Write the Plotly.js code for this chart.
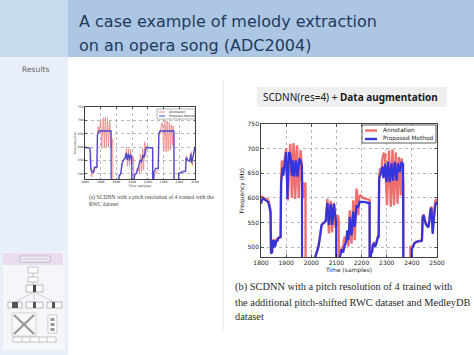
<!DOCTYPE html>
<html><head><meta charset="utf-8">
<script src="https://cdn.plot.ly/plotly-3.0.1.min.js"></script>
<style>html,body{margin:0;padding:0;background:#fff;}#chart{width:474px;height:355px;}</style>
</head><body><div id="chart"></div>
<script>
// ---- data ----
const xTicks = [1800, 1900, 2000, 2100, 2200, 2300, 2400, 2500];
const yTicks = [500, 550, 600, 650, 700, 750];
const seriesNames = ['Annotation', 'Proposed Method'];
// [time sample, frequency Hz]; 0 = unvoiced (drops below the axis)
const annotationPts = [
 [1800,600],[1804,602],[1810,600],[1820,598],[1828,596],[1832,590],[1836,582],[1838,575],[1840,488],[1844,490],[1847,512],[1851,515],[1854,502],[1858,506],[1861,515],[1865,514],[1868,519],[1876,522],[1878,522],
 [1880,640],[1883,676],[1886,660],[1889,653],[1893,675],[1897,692],[1900,700],[1903,650],[1907,595],[1910,640],[1913,700],[1916,710],[1919,680],[1923,600],[1926,650],[1929,711],[1932,690],[1936,598],[1939,640],[1943,707],[1946,670],[1950,600],[1953,640],[1957,697],[1960,680],[1963,630],[1966,600],[1969,602],[1972,629],[1977,629],[1978,0],
 [2014,0],[2016,480],[2022,490],[2028,500],[2033,517],[2037,532],[2041,545],[2047,548],[2053,551],[2058,556],[2061,580],[2064,598],[2067,565],[2070,528],[2073,560],[2077,594],[2080,570],[2083,530],[2086,560],[2090,590],[2093,572],[2096,540],[2100,545],[2103,562],[2106,565],[2109,555],[2110,0],
 [2112,0],[2114,482],[2120,496],[2124,498],[2128,505],[2132,521],[2136,515],[2140,512],[2143,525],[2147,501],[2150,530],[2153,575],[2156,550],[2160,507],[2164,555],[2167,595],[2170,560],[2173,514],[2177,580],[2180,619],[2184,600],[2187,565],[2190,600],[2195,605],[2205,600],[2215,598],[2225,596],[2232,596],[2233,0],
 [2235,0],[2237,490],[2242,492],[2245,505],[2249,508],[2253,504],[2257,506],[2261,515],[2265,522],[2268,522],[2270,645],[2274,660],[2278,650],[2283,679],[2288,690],[2293,689],[2297,640],[2301,585],[2305,640],[2309,696],[2313,650],[2316,582],[2320,640],[2323,698],[2326,650],[2329,585],[2333,640],[2336,692],[2340,650],[2343,588],[2346,640],[2349,683],[2353,650],[2356,605],[2360,680],[2364,640],[2366,625],[2368,0],
 [2392,0],[2394,500],[2400,500],[2405,502],[2409,508],[2416,510],[2425,512],[2436,513],[2440,514],[2443,562],[2447,566],[2451,557],[2456,548],[2461,545],[2466,542],[2470,557],[2474,578],[2478,582],[2480,558],[2483,530],[2486,552],[2489,568],[2493,594],[2497,596],[2500,598]
];
// (b) proposed method trained with data augmentation
const proposedAugPts = [
 [1800,588],[1804,596],[1810,598],[1820,595],[1828,592],[1832,585],[1836,578],[1838,570],[1840,487],[1844,490],[1847,512],[1851,514],[1854,500],[1858,505],[1861,514],[1865,512],[1868,518],[1876,520],[1878,520],
 [1880,630],[1883,659],[1886,662],[1889,645],[1893,665],[1896,678],[1900,693],[1903,640],[1905,598],[1908,650],[1912,693],[1915,690],[1919,676],[1923,645],[1927,676],[1932,643],[1939,676],[1945,643],[1953,680],[1959,673],[1963,665],[1964,0],
 [2014,0],[2016,480],[2022,490],[2028,500],[2033,515],[2037,530],[2041,545],[2047,548],[2053,550],[2058,553],[2061,575],[2064,590],[2067,570],[2070,545],[2073,560],[2077,588],[2080,575],[2083,545],[2086,560],[2090,588],[2093,575],[2096,555],[2099,550],[2100,0],
 [2112,0],[2114,480],[2120,494],[2124,494],[2127,489],[2131,500],[2135,505],[2139,512],[2143,534],[2147,514],[2150,530],[2153,561],[2156,545],[2160,524],[2164,550],[2167,572],[2170,555],[2173,541],[2177,565],[2180,585],[2184,580],[2188,584],[2192,592],[2210,592],[2225,590],[2232,590],[2233,0],
 [2235,0],[2237,487],[2242,490],[2245,505],[2249,507],[2253,502],[2257,504],[2261,514],[2265,520],[2268,521],[2270,639],[2276,649],[2283,663],[2287,640],[2293,669],[2299,632],[2305,673],[2312,632],[2319,670],[2325,635],[2332,673],[2339,635],[2345,670],[2352,652],[2359,673],[2365,668],[2368,0],
 [2395,0],[2397,482],[2400,497],[2405,500],[2409,507],[2416,510],[2425,512],[2436,512],[2440,513],[2443,560],[2447,565],[2451,555],[2456,546],[2461,543],[2466,540],[2470,555],[2474,575],[2478,580],[2480,555],[2483,527],[2486,550],[2489,565],[2493,584],[2497,590],[2500,592]
];
// (a) proposed method trained with RWC only
const proposedRwcPts = [
 [1800,598],[1832,596],[1836,520],[1842,508],[1855,505],[1860,524],[1875,524],[1879,645],[1885,655],[1890,660],[1966,660],[1968,0],
 [2014,0],[2016,492],[2028,500],[2034,535],[2042,548],[2055,560],[2062,578],[2068,552],[2076,575],[2083,550],[2090,572],[2097,560],[2099,0],
 [2112,0],[2114,495],[2128,500],[2134,510],[2142,530],[2150,550],[2160,545],[2168,570],[2176,560],[2184,590],[2192,598],[2230,596],[2232,0],
 [2236,0],[2238,505],[2250,520],[2266,520],[2270,650],[2278,660],[2366,660],[2368,0],
 [2392,0],[2396,500],[2410,505],[2440,508],[2444,560],[2455,550],[2466,548],[2474,575],[2478,540],[2486,560],[2492,585],[2500,600]
];

// ---- layout helpers ----
const W = 474, H = 355;
const X = v => v / W;
const Y = v => 1 - v / H;
const xs = p => p.map(d => d[0]);
const ys = p => p.map(d => d[1]);

const RED = '#ef6f6f', BLUE = '#3434dc';

const traces = [
  {x: xs(annotationPts), y: ys(annotationPts), xaxis: 'x', yaxis: 'y', mode: 'lines', name: seriesNames[0], line: {color: RED, width: 2.4}, showlegend: false},
  {x: xs(proposedAugPts), y: ys(proposedAugPts), xaxis: 'x', yaxis: 'y', mode: 'lines', name: seriesNames[1], line: {color: BLUE, width: 2.2}, showlegend: false},
  {x: xs(annotationPts), y: ys(annotationPts), xaxis: 'x2', yaxis: 'y2', mode: 'lines', name: seriesNames[0], line: {color: '#f08a8a', width: 0.9}, showlegend: false},
  {x: xs(proposedRwcPts), y: ys(proposedRwcPts), xaxis: 'x2', yaxis: 'y2', mode: 'lines', name: seriesNames[1], line: {color: '#4a48d0', width: 1.3}, showlegend: false}
];

function axisBase(fs) {
  return {
    showline: true, mirror: 'ticks', linecolor: '#111', linewidth: 0.8,
    ticks: 'inside', ticklen: fs > 4 ? 3 : 1.5, tickwidth: 0.6, tickcolor: '#111',
    showgrid: true, gridcolor: '#8a8a8a', griddash: 'dot', gridwidth: 0.6,
    zeroline: false, fixedrange: true,
    tickfont: {family: 'DejaVu Sans', size: fs, color: '#222'}
  };
}

const layout = {
  width: W, height: H,
  margin: {l: 0, r: 0, t: 0, b: 0, pad: 0},
  paper_bgcolor: '#ffffff', plot_bgcolor: '#ffffff',
  showlegend: false,
  xaxis: Object.assign(axisBase(6), {domain: [X(261), X(437)], range: [1800, 2500], tickvals: xTicks, anchor: 'y',
    title: {text: 'Time (samples)', font: {family: 'DejaVu Sans', size: 6, color: '#222'}, standoff: 1}}),
  yaxis: Object.assign(axisBase(6), {domain: [Y(257), Y(124)], range: [480, 750], tickvals: yTicks, anchor: 'x',
    title: {text: 'Frequency (Hz)', font: {family: 'DejaVu Sans', size: 6, color: '#222'}, standoff: 2}}),
  xaxis2: Object.assign(axisBase(3), {domain: [X(85), X(195)], range: [1800, 2500], tickvals: xTicks, anchor: 'y2',
    title: {text: 'Time (samples)', font: {family: 'DejaVu Sans', size: 3, color: '#333'}, standoff: 1}}),
  yaxis2: Object.assign(axisBase(3), {domain: [Y(179), Y(107)], range: [480, 750], tickvals: yTicks, anchor: 'x2',
    title: {text: 'Frequency (Hz)', font: {family: 'DejaVu Sans', size: 3, color: '#333'}, standoff: 1}}),
  shapes: [],
  annotations: []
};

function rect(x0, y0, x1, y1, fill, lineColor, lw, layer) {
  layout.shapes.push({type: 'rect', xref: 'paper', yref: 'paper', x0: X(x0), x1: X(x1), y0: Y(y1), y1: Y(y0),
    fillcolor: fill, line: {color: lineColor || 'rgba(0,0,0,0)', width: lw || 0}, layer: layer || 'below'});
}
function seg(x0, y0, x1, y1, color, w, layer) {
  layout.shapes.push({type: 'line', xref: 'paper', yref: 'paper', x0: X(x0), x1: X(x1), y0: Y(y0), y1: Y(y1),
    line: {color: color, width: w}, layer: layer || 'below'});
}
function text(t, x, y, size, opts) {
  opts = opts || {};
  layout.annotations.push({text: t, xref: 'paper', yref: 'paper', x: X(x), y: Y(y), showarrow: false,
    xanchor: opts.xanchor || 'left', yanchor: opts.yanchor || 'middle',
    font: {family: opts.family || 'DejaVu Sans', size: size, color: opts.color || '#222'},
    textangle: opts.angle || 0});
}

// slide background
rect(0, 0, 474, 57, '#adc6e3');
rect(0, 0, 68, 57, '#c7daee');
rect(0, 57, 68, 355, '#e8eff8');
seg(223, 80, 223, 330, '#e4e4e4', 1);
// label box
rect(257, 87, 447, 107, '#efefef');

// thumbnail of network diagram
rect(3, 252, 65, 350, '#f5f6fa');
rect(3, 253, 63, 265, '#eadcef');
rect(20, 256, 50, 262, '#f3eef6', '#9a9aa8', 0.5);
seg(22, 259, 48, 259, '#9a9aa8', 0.5);
rect(28, 267, 38, 273, '#ffffff', '#9a9a9a', 0.6);
seg(33, 273, 33, 277, '#999', 0.5);
rect(28, 277, 38, 282, '#ffffff', '#9a9a9a', 0.6);
seg(33, 282, 33, 285, '#999', 0.5);
rect(26, 285, 43, 292, '#ffffff', '#8a8a8a', 0.6);
rect(33, 285, 36, 292, '#444', null, 0);
seg(34, 292, 15, 302, '#aaa', 0.5); seg(34, 292, 34, 302, '#aaa', 0.5); seg(34, 292, 54, 302, '#aaa', 0.5);
rect(8, 302, 22, 308, '#ffffff', '#8a8a8a', 0.6); rect(12, 302, 18, 308, '#555', null, 0);
rect(26, 302, 43, 308, '#ffffff', '#8a8a8a', 0.6); rect(33, 302, 36, 308, '#555', null, 0);
rect(47, 302, 62, 308, '#ffffff', '#8a8a8a', 0.6); rect(52, 302, 55, 308, '#555', null, 0);
rect(12, 313, 36, 336, '#f7f7f7', '#b0b0b0', 0.5);
seg(14, 315, 34, 334, '#999', 2.2); seg(34, 315, 14, 334, '#999', 2.2);
rect(48, 315, 57, 333, '#ffffff', '#999', 0.5);
rect(50.5, 318, 54.5, 321, '#999', null, 0); rect(50.5, 323, 54.5, 326, '#999', null, 0); rect(50.5, 328, 54.5, 331, '#999', null, 0);
rect(13, 337, 56, 342, '#ffffff', '#8a8a8a', 0.5);
seg(22, 337, 22, 342, '#8a8a8a', 0.5); seg(30, 337, 30, 342, '#8a8a8a', 0.5); seg(39, 337, 39, 342, '#8a8a8a', 0.5); seg(47, 337, 47, 342, '#8a8a8a', 0.5);

// main legend
rect(362, 125, 436, 143, '#ffffff', '#333', 0.8, 'above');
seg(365, 130.5, 377, 130.5, RED, 2.4, 'above');
seg(365, 139, 377, 139, BLUE, 2.4, 'above');
text(seriesNames[0], 381, 130.5, 5.8);
text(seriesNames[1], 381, 139, 5.8);
// small legend
rect(157, 109, 195, 119, '#ffffff', '#444', 0.4, 'above');
seg(159, 112, 165, 112, '#f08a8a', 1, 'above');
seg(159, 116, 165, 116, '#4a48d0', 1, 'above');
text(seriesNames[0], 167, 112, 3);
text(seriesNames[1], 167, 116, 3);

// texts
text('A case example of melody extraction', 77, 21, 16, {color: '#1f3a5e'});
text('on an opera song (ADC2004)', 77, 45, 16, {color: '#1f3a5e'});
text('Results', 20, 70, 7.6, {color: '#666'});
text('SCDNN(res=4) + <b>Data augmentation</b>', 350, 97, 10, {xanchor: 'center', family: 'Noto Sans', color: '#1a1a1a'});
const serif = 'Liberation Serif';
text('(b) SCDNN with a pitch resolution of 4 trained with', 233, 287, 10.4, {family: serif, color: '#2a2a2a'});
text('the additional pitch-shifted RWC dataset and MedleyDB', 233, 302, 10.4, {family: serif, color: '#2a2a2a'});
text('dataset', 233, 316, 10.4, {family: serif, color: '#2a2a2a'});
text('(a) SCDNN with a pitch resolution of 4 trained with the', 87, 197, 5.6, {family: serif, color: '#444'});
text('RWC dataset', 87, 204, 5.6, {family: serif, color: '#444'});

Plotly.newPlot('chart', traces, layout, {displayModeBar: false, staticPlot: true});
</script>
</body></html>
